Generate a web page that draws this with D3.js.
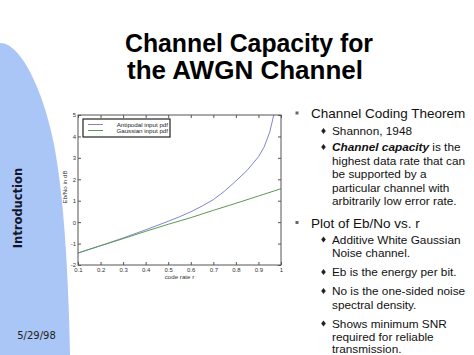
<!DOCTYPE html>
<html>
<head>
<meta charset="utf-8">
<script src="https://cdn.jsdelivr.net/npm/d3@7"></script>
<style>
  body { margin: 0; background: #fff; }
  svg { display: block; }
</style>
</head>
<body>
<div id="chart"></div>
<script>
// datos
const xTicks = [0.1, 0.2, 0.3, 0.4, 0.5, 0.6, 0.7, 0.8, 0.9, 1];
const yTicks = [-2, -1, 0, 1, 2, 3, 4, 5];

const rateAntipodal = [0.1, 0.2, 0.3, 0.4, 0.5, 0.55, 0.6, 0.65, 0.7, 0.75, 0.8, 0.85, 0.9, 0.925, 0.95, 0.97];
const ebnoAntipodal = [-1.44, -1.1, -0.74, -0.36, 0.04, 0.25, 0.48, 0.75, 1.05, 1.45, 1.92, 2.42, 3.05, 3.5, 4.2, 5.1];

const rateGaussian = [0.1, 0.2, 0.3, 0.4, 0.5, 0.6, 0.7, 0.8, 0.9, 1];
const ebnoGaussian = [-1.44, -1.1, -0.77, -0.43, -0.1, 0.21, 0.55, 0.88, 1.22, 1.56];

const legendLabels = ['Antipodal input pdf', 'Gaussian input pdf'];

const COLOR_BLUE = '#8284cf',
      COLOR_GREEN = '#5b9a52',
      COLOR_SIDE = '#aac6f6';

const W = 474, H = 355;
const svg = d3.select('#chart').append('svg')
    .attr('width', W).attr('height', H);

//Franja lateral
svg.append('path')
    .attr('d', 'M0,43 C22,43 45,95 55,150 C63,195 68,260 70,355 L0,355 Z')
    .attr('fill', COLOR_SIDE);

svg.append('text')
    .attr('transform', 'translate(22,208) rotate(-90)')
    .attr('text-anchor', 'middle')
    .style('font-family', 'DejaVu Sans')
    .style('font-weight', 'bold')
    .style('font-size', '11.5px')
    .attr('fill', '#15152a')
    .text('Introduction');

svg.append('text')
    .attr('x', 36.5).attr('y', 339)
    .attr('text-anchor', 'middle')
    .style('font-family', 'DejaVu Sans')
    .style('font-size', '10px')
    .attr('fill', '#222')
    .text('5/29/98');

//Titulo
const title = svg.append('g')
    .style('font-family', 'Liberation Sans, Arial, sans-serif')
    .style('font-weight', 'bold')
    .style('font-size', '25.5px')
    .attr('fill', '#000');
title.append('text').attr('x', 125).attr('y', 52)
    .attr('textLength', 248).attr('lengthAdjust', 'spacingAndGlyphs')
    .text('Channel Capacity for');
title.append('text').attr('x', 127).attr('y', 78.5)
    .attr('textLength', 236).attr('lengthAdjust', 'spacingAndGlyphs')
    .text('the AWGN Channel');

//Grafico
const margin = {top: 115, left: 78, right: 474 - 281, bottom: 355 - 265};
const width = W - margin.left - margin.right,
      height = H - margin.top - margin.bottom;

const g = svg.append('g')
    .attr('transform', 'translate(' + margin.left + ',' + margin.top + ')');

const x = d3.scaleLinear().domain([0.1, 1]).range([0, width]);
const y = d3.scaleLinear().domain([-2, 5]).range([height, 0]);

const fmt = d => String(d);

function styleAxis(sel) {
    sel.select('.domain').remove();
    sel.selectAll('line').attr('stroke', '#555');
    sel.selectAll('text')
        .style('font-family', 'Liberation Sans, Arial, sans-serif')
        .style('font-size', '6px')
        .attr('fill', '#333');
}

g.append('g')
    .attr('transform', 'translate(0,' + height + ')')
    .call(d3.axisBottom(x).tickValues(xTicks).tickFormat(fmt).tickSize(-3).tickPadding(3))
    .call(styleAxis);
g.append('g')
    .call(d3.axisTop(x).tickValues(xTicks).tickFormat('').tickSize(-3))
    .call(styleAxis);
g.append('g')
    .call(d3.axisLeft(y).tickValues(yTicks).tickFormat(fmt).tickSize(-3).tickPadding(2))
    .call(styleAxis);
g.append('g')
    .attr('transform', 'translate(' + width + ',0)')
    .call(d3.axisRight(y).tickValues(yTicks).tickFormat('').tickSize(-3))
    .call(styleAxis);

g.append('defs').append('clipPath').attr('id', 'clip')
    .append('rect').attr('width', width).attr('height', height);

const line = d3.line()
    .x(d => x(d[0]))
    .y(d => y(d[1]));

const series = [
    {name: legendLabels[0], color: COLOR_BLUE, pts: d3.zip(rateAntipodal, ebnoAntipodal)},
    {name: legendLabels[1], color: COLOR_GREEN, pts: d3.zip(rateGaussian, ebnoGaussian)}
];

g.append('g').attr('clip-path', 'url(#clip)')
    .selectAll('path')
    .data(series)
    .enter().append('path')
    .attr('d', d => line(d.pts))
    .attr('fill', 'none')
    .attr('stroke', d => d.color)
    .attr('stroke-width', 1);

g.append('rect')
    .attr('width', width).attr('height', height)
    .attr('fill', 'none').attr('stroke', '#555').attr('stroke-width', 1);

//Leyenda
const leg = g.append('g').attr('transform', 'translate(5,4)');
leg.append('rect')
    .attr('width', 87).attr('height', 18)
    .attr('fill', '#fff').attr('stroke', '#222').attr('stroke-width', 1.2);
const items = leg.selectAll('g.item').data(series).enter().append('g')
    .attr('transform', (d, i) => 'translate(0,' + (5.5 + i * 6) + ')');
items.append('line')
    .attr('x1', 5).attr('x2', 20)
    .attr('stroke', d => d.color).attr('stroke-width', 1);
items.append('text')
    .attr('x', 85).attr('y', 2)
    .attr('text-anchor', 'end')
    .style('font-family', 'Liberation Sans, Arial, sans-serif')
    .style('font-size', '6.2px')
    .attr('fill', '#222')
    .text(d => d.name);

//Etiquetas de ejes
g.append('text')
    .attr('x', width / 2).attr('y', height + 14)
    .attr('text-anchor', 'middle')
    .style('font-family', 'Liberation Sans, Arial, sans-serif')
    .style('font-size', '6.2px')
    .attr('fill', '#333')
    .text('code rate r');
g.append('text')
    .attr('transform', 'translate(-11,' + (height / 2 - 3) + ') rotate(-90)')
    .attr('text-anchor', 'middle')
    .style('font-family', 'Liberation Sans, Arial, sans-serif')
    .style('font-size', '6.2px')
    .attr('fill', '#333')
    .text('Eb/No in dB');

//Texto derecha
const bullets = [
    {lvl: 0, y: 118, parts: [['Channel Coding Theorem', '']]},
    {lvl: 1, y: 135, parts: [['Shannon, 1948', '']]},
    {lvl: 1, y: 151, parts: [['Channel capacity', 'bi'], [' is the', '']]},
    {lvl: 2, y: 164.5, parts: [['highest data rate that can', '']]},
    {lvl: 2, y: 178, parts: [['be supported by a', '']]},
    {lvl: 2, y: 191.5, parts: [['particular channel with', '']]},
    {lvl: 2, y: 205, parts: [['arbitrarily low error rate.', '']]},
    {lvl: 0, y: 227.5, parts: [['Plot of Eb/No vs. r', '']]},
    {lvl: 1, y: 243.5, parts: [['Additive White Gaussian', '']]},
    {lvl: 2, y: 257, parts: [['Noise channel.', '']]},
    {lvl: 1, y: 276, parts: [['Eb is the energy per bit.', '']]},
    {lvl: 1, y: 295, parts: [['No is the one-sided noise', '']]},
    {lvl: 2, y: 308.5, parts: [['spectral density.', '']]},
    {lvl: 1, y: 327.5, parts: [['Shows minimum SNR', '']]},
    {lvl: 2, y: 340.5, parts: [['required for reliable', '']]},
    {lvl: 2, y: 353, parts: [['transmission.', '']]}
];

const txt = svg.append('g')
    .style('font-family', 'Liberation Sans, Arial, sans-serif')
    .attr('fill', '#111');

bullets.forEach(function(b) {
    const t = txt.append('text')
        .attr('x', b.lvl == 0 ? 311 : 332)
        .attr('y', b.y)
        .style('font-size', b.lvl == 0 ? '13.5px' : '11.8px');
    b.parts.forEach(function(p) {
        const s = t.append('tspan').text(p[0]);
        if (p[1] == 'bi') s.style('font-weight', 'bold').style('font-style', 'italic');
    });
    if (b.lvl == 0) {
        txt.append('rect')
            .attr('x', 295.5).attr('y', b.y - 6.5)
            .attr('width', 3).attr('height', 3)
            .attr('fill', '#666');
    } else if (b.lvl == 1) {
        txt.append('path')
            .attr('d', d3.symbol().type(d3.symbolDiamond).size(14))
            .attr('transform', 'translate(323.5,' + (b.y - 4) + ') scale(1.15,0.85)')
            .attr('fill', '#222');
    }
});
</script>
</body>
</html>
